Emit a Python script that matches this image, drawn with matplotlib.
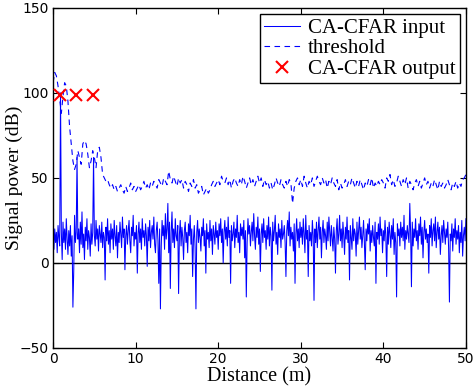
import matplotlib
matplotlib.use("Agg")
import matplotlib.pyplot as plt
import numpy as np

# input signal: 0 .. 50 m, 0.1 m step
signal_x = np.linspace(0, 50, 501)
signal_db = [
    14, 8, 20, 12, 18, 6, 22, 15, 10, 100,
    18, 2, 24, 12, 20, 8, 26, 14, 5, 19,
    10, 22, 4, 16, -26, -5, 28, 12, 18, 62,
    14, 20, 6, 24, 11, 30, 9, 17, 2, 21,
    13, 26, 8, 19, 15, 4, 23, 11, 18, 62,
    16, 10, 25, 14, 20, 7, 22, 17, 12, 24,
    9, 18, 15, -10, 21, 13, 26, 11, 19, 6,
    23, 14, 20, 8, 25, 16, 10, 22, 3, 18,
    12, 24, 17, 9, 27, 15, 20, -4, 16, 22,
    11, 19, 25, 13, 6, 21, 16, 28, 10, 18,
    14, 22, -6, 17, 24, 12, 20, 8, 26, 15,
    19, 10, 23, 16, -2, 21, 13, 25, 9, 18,
    22, 14, 27, 11, 6, 19, 24, 13, -12, 20,
    -27, 10, 25, 16, 22, 8, 29, 14, 20, 35,
    6, 24, -15, 18, 30, 12, 20, 9, 26, 16,
    13, 22, -18, 17, 25, 10, 21, 15, 2, 19,
    24, 12, 18, 6, 23, 16, 28, 11, 20, -8,
    14, 22, 9, -27, 18, 25, 12, 20, 15, 7,
    21, 16, 26, 10, 19, -6, 23, 14, 18, 9,
    25, 13, 20, 5, 22, 17, 11, 24, 15, 19,
    8, 23, 16, 26, 12, 20, 0, 18, 25, 14,
    21, 10, 27, 15, 19, -12, 22, 13, 17, 24,
    9, 20, 15, 28, 12, 18, 6, 23, 16, 21,
    14, 25, 3, 19, -20, 12, 26, 17, 22, 10,
    18, 24, 13, 29, 16, 8, 21, 15, 27, 11,
    20, -5, 17, 23, 12, 26, 15, 19, 8, 22,
    14, 27, 10, 21, 16, -16, 24, 13, 19, 28,
    11, 18, 5, 23, 15, 20, 9, 25, 14, 17,
    22, 12, -8, 19, 25, 16, 30, 10, 21, 14,
    18, 7, 23, -12, 17, 26, 13, 20, 9, 24,
    15, 21, 11, 26, 17, 6, 28, 14, 19, -8,
    22, 13, 18, 10, 25, 16, -22, 20, 12, 24,
    9, 19, 27, 14, 21, 3, 18, 25, 12, 20,
    16, 8, 24, 13, 27, 18, 10, 22, 15, 7,
    21, 14, -6, 19, 26, 11, 17, 28, 13, 20,
    9, 24, 16, 5, 21, 14, 27, 12, 19, -10,
    22, 15, 8, 26, 13, 20, 17, 4, 24, 11,
    19, 27, 14, 21, 9, 16, 25, 12, -4, 20,
    13, 23, 17, 26, 7, 19, 12, 22, 15, 10,
    24, -12, 18, 14, 23, 11, 27, 16, 20, 6,
    19, 13, 25, 15, -8, 21, 11, 24, 17, 9,
    22, 14, 26, 5, 18, 12, -20, 23, 16, 20,
    10, 24, 15, 21, 13, 28, 8, 19, 14, 22,
    17, 12, 35, 18, -14, 24, 10, 20, 15, 26,
    13, 19, 8, 23, 16, 27, 11, 21, 3, 18,
    25, 14, 20, 12, 17, -6, 22, 15, 26, 10,
    19, 23, 13, 27, 9, 18, 24, 14, 21, 5,
    16, 22, 12, 25, 18, 11, 20, 15, 24, 9,
    -23, 17, 13, 23, 7, 20, 15, 26, 11, 19,
    14, 22, 6, 18, 12, 25, 4, 16, 21, 13,
    26,
]

# threshold: 0 .. 50 m, 0.2 m step
threshold_x = np.linspace(0, 50, 251)
threshold_db = [
    106, 112, 110, 104, 96, 88, 98, 106, 104, 95,
    80, 70, 60, 55, 58, 66, 62, 58, 70, 72,
    70, 64, 56, 60, 66, 62, 56, 66, 68, 62,
    52, 50, 48, 49, 46, 44, 46, 43, 45, 42,
    44, 46, 43, 41, 45, 42, 44, 47, 43, 45,
    42, 44, 46, 43, 45, 48, 44, 46, 43, 47,
    45, 48, 46, 44, 49, 47, 45, 50, 48, 46,
    54, 49, 47, 51, 48, 45, 50, 47, 49, 44,
    48, 46, 42, 47, 45, 49, 44, 46, 41, 43,
    45, 40, 42, 44, 41, 43, 46, 48, 45, 47,
    49, 46, 51, 48, 47, 50, 46, 49, 44, 48,
    50, 47, 45, 49, 46, 51, 48, 44, 47, 50,
    46, 49, 45, 48, 51, 47, 50, 45, 49, 46,
    48, 44, 47, 43, 46, 50, 47, 45, 49, 46,
    44, 48, 45, 49, 47, 35, 44, 48, 50, 46,
    49, 45, 51, 47, 44, 48, 46, 50, 45, 48,
    51, 48, 46, 50, 47, 49, 44, 48, 46, 50,
    47, 45, 49, 43, 47, 44, 46, 49, 45, 48,
    46, 50, 47, 44, 48, 45, 49, 46, 43, 47,
    45, 49, 46, 50, 44, 47, 45, 48, 46, 49,
    47, 44, 50, 48, 52, 46, 49, 45, 47, 51,
    48, 45, 49, 46, 50, 44, 48, 46, 43, 47,
    49, 45, 48, 44, 47, 50, 46, 48, 44, 47,
    45, 49, 46, 43, 48, 45, 47, 44, 46, 49,
    46, 43, 47, 45, 48, 44, 47, 45, 49, 50, 52,
]

detect_x = [0.85, 2.8, 4.85]
detect_y = [99, 99, 99]

serif = "Liberation Serif"

fig = plt.figure(figsize=(4.74, 3.91), dpi=100)
ax = fig.add_axes([0.112, 0.11, 0.871, 0.87])

ax.axhline(0, color="black", lw=1.0, zorder=1)
ax.plot(signal_x, signal_db, color="#0000ff", lw=0.75, label="CA-CFAR input", zorder=2)
ax.plot(threshold_x, threshold_db, color="#0000ff", lw=0.8, ls=(0, (5, 4)),
        label="threshold", zorder=2)
ax.plot(detect_x, detect_y, ls="none", marker="x", color="#ff0000",
        ms=8, mew=1.5, label="CA-CFAR output", zorder=3)

ax.set_xlim(0, 50)
ax.set_ylim(-50, 150)
ax.set_xticks([0, 10, 20, 30, 40, 50])
ax.set_yticks([-50, 0, 50, 100, 150])
ax.tick_params(direction="in", top=True, right=True, labelsize=10, length=4, pad=3)
for sp in ax.spines.values():
    sp.set_linewidth(1.0)

ax.set_xlabel("Distance (m)", family=serif, fontsize=14.5, labelpad=1)
ax.set_ylabel("Signal power (dB)", family=serif, fontsize=14)
# label anchor is its bottom (right edge once rotated)
ax.yaxis.set_label_coords(-0.072, 0.5)

leg = ax.legend(loc="upper right", prop={"family": serif, "size": 15},
                fancybox=False, framealpha=1, edgecolor="black",
                borderaxespad=0.3, handlelength=1.7, labelspacing=0.05,
                borderpad=0.2, handletextpad=0.4)
leg.get_frame().set_linewidth(1.0)

fig.savefig("out.png", dpi=100)
